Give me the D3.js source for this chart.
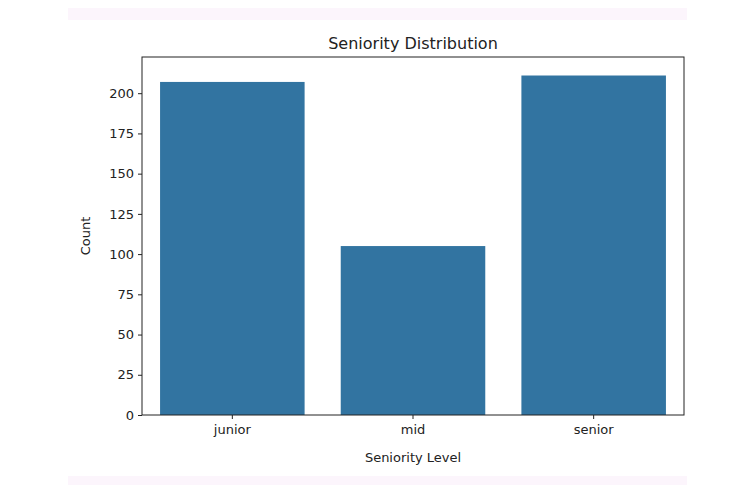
<!DOCTYPE html><html><head><meta charset="utf-8"><script src="https://cdn.jsdelivr.net/npm/d3@7"></script>
<style>body{margin:0;background:#fff}text{font-family:"DejaVu Sans",sans-serif;fill:#222}</style></head><body>
<svg id="c" width="755" height="485"></svg>
<script>
const categories=["junior","mid","senior"];
const counts=[207,105,211];
const yTicks=[0,25,50,75,100,125,150,175,200];
const svg=d3.select("#c");
svg.append("rect").attr("x",68).attr("y",8).attr("width",619).attr("height",12).attr("fill","#fcf5fc");
svg.append("rect").attr("x",68).attr("y",476).attr("width",619).attr("height",9).attr("fill","#fcf5fc");
const L=142,R=684,T=57,B=415;
const x=d3.scaleBand().domain(categories).range([L,R]).paddingInner(0.2).paddingOuter(0.1);
const y=d3.scaleLinear().domain([0,222.5]).range([B,T]);
svg.selectAll(".bar").data(categories).enter().append("rect")
 .attr("x",d=>x(d)).attr("width",x.bandwidth())
 .attr("y",(d,i)=>y(counts[i])).attr("height",(d,i)=>B-y(counts[i])).attr("fill","#3274a1");
svg.append("rect").attr("x",L).attr("y",T).attr("width",R-L).attr("height",B-T).attr("fill","none").attr("stroke","#222").attr("stroke-width",1);
const ya=svg.append("g").attr("transform",`translate(${L},0)`).call(d3.axisLeft(y).tickValues(yTicks).tickSize(4).tickPadding(4));
const xa=svg.append("g").attr("transform",`translate(0,${B})`).call(d3.axisBottom(x).tickSize(4).tickPadding(6));
[ya,xa].forEach(a=>{a.select(".domain").remove();a.selectAll("text").attr("font-size",13).attr("font-family","DejaVu Sans").attr("fill","#222");a.selectAll("line").attr("stroke","#222");});
svg.append("text").attr("x",(L+R)/2).attr("y",49).attr("text-anchor","middle").attr("font-size",16).text("Seniority Distribution");
svg.append("text").attr("x",(L+R)/2).attr("y",462).attr("text-anchor","middle").attr("font-size",13).text("Seniority Level");
svg.append("text").attr("transform",`translate(90,${(T+B)/2}) rotate(-90)`).attr("text-anchor","middle").attr("font-size",13).text("Count");
</script></body></html>
